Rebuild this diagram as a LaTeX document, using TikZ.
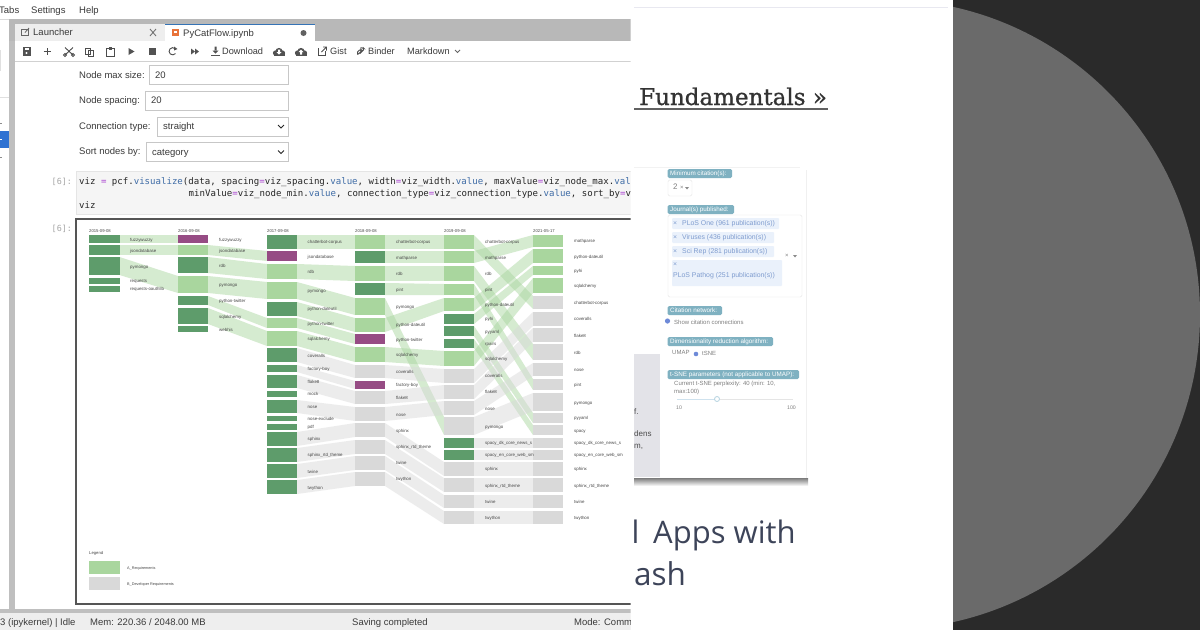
\documentclass[tikz,border=0pt]{standalone}
\usepackage{fontspec}
\setmainfont{Liberation Sans}
\newfontfamily\codefont{DejaVu Sans Mono}
\newfontfamily\headfont[FakeBold=0.9]{DejaVu Serif}
\newfontfamily\opensans{Open Sans}
\definecolor{dk}{HTML}{5E9C6B}
\definecolor{lt}{HTML}{A9D69E}
\definecolor{pu}{HTML}{964C84}
\definecolor{gy}{HTML}{D9D9D9}
\definecolor{kw}{HTML}{3F6CA6}
\definecolor{eqc}{HTML}{A83FD0}
\definecolor{pill}{HTML}{7FB1C1}
\definecolor{chip}{HTML}{EAF1FB}
\definecolor{chipt}{HTML}{7F9CCF}
\definecolor{uitext}{HTML}{3A3A3A}
\definecolor{bgdark}{HTML}{2A2A2A}
\definecolor{circ}{HTML}{6A6A6A}
\definecolor{selblue}{HTML}{2F72D2}
\definecolor{panelg}{HTML}{EEEEEE}
\definecolor{tabblue}{HTML}{3573B5}
\definecolor{orangeic}{HTML}{E8733A}
\definecolor{cellbg}{HTML}{F5F5F5}
\definecolor{framec}{HTML}{555555}
\definecolor{ruleline}{HTML}{E8E8F0}
\definecolor{sideg}{HTML}{E3E3E8}
\definecolor{checkb}{HTML}{6E8AD8}
\definecolor{slidea}{HTML}{CFE2EE}
\definecolor{slideb}{HTML}{B5D2E0}
\definecolor{headc}{HTML}{3D4459}
\newcommand{\fs}[1]{\fontsize{#1}{#1}\selectfont}
\newcommand{\kq}{\textcolor{eqc}{=}}
\newcommand{\kv}[1]{\textcolor{kw}{#1}}
\newcommand{\flowband}[7]{\fill[#1,opacity=.48] (#2,#4)--(#3,#6)--(#3,#7)--(#2,#5)--cycle;}
\tikzset{
 lab/.style={font=\fs{4.4},anchor=west,inner sep=0pt,text=black!72,text height=3.2pt,text depth=1pt},
 dat/.style={font=\fs{4.2},anchor=west,inner sep=0pt,text=black!72,text height=3.2pt,text depth=1pt},
 ui/.style={font=\fs{9.5},anchor=west,inner sep=0pt,text=uitext,text height=7.5pt,text depth=1.5pt},
 code/.style={font=\codefont\fs{9.07},anchor=west,inner sep=0pt,text=black!85,text height=7.5pt,text depth=1.5pt},
 field/.style={draw=black!22,fill=white,line width=.8pt},
 iconline/.style={draw=black!70,line width=.9pt,fill=none},
 pilltext/.style={font=\fs{6.3},anchor=west,inner sep=0pt,text=white,text height=4.5pt,text depth=1.5pt},
 chipbox/.style={fill=chip,rounded corners=1pt},
 chiptext/.style={font=\fs{6.9},anchor=west,inner sep=0pt,text=chipt,text height=5pt,text depth=1.5pt},
 soft/.style={font=\fs{6},anchor=west,inner sep=0pt,text=black!50,text height=4.5pt,text depth=1.5pt},
}
\begin{document}
\begin{tikzpicture}[x=1pt,y=-1pt]
\useasboundingbox (0,0) rectangle (1200,630);
\fill[white] (0,0) rectangle (1200,630);
% right dark side
\fill[bgdark] (953,0) rectangle (1200,630);
\begin{scope}
\clip (953,0) rectangle (1200,630);
\fill[circ] (885,314.5) circle [radius=315];
\end{scope}
% left screenshot
\begin{scope}
\clip (0,0) rectangle (630.5,630);
\node[ui] at (-1,10) {Tabs};
\node[ui] at (31,10) {Settings};
\node[ui] at (79,10) {Help};
% sidebar
\fill[black!25] (9,19) rectangle (15,613);
\fill[black!28] (9,19) rectangle (631,41);
\draw[black!15] (0,19) -- (9,19);
\fill[black!12] (0,50) rectangle (1,71);
\draw[black!12] (0,97) -- (9,97);
\fill[selblue] (0,131) rectangle (9,148);
\fill[black!45] (0,122.5) rectangle (1.5,124);
\fill[black!45] (0,156.5) rectangle (1.5,158);
\fill[white] (0,139) rectangle (2,140);
% tabs
\fill[panelg] (15,24) rectangle (165,41);
\fill[white] (165,24) rectangle (315,41);
\draw[tabblue,line width=1pt] (165,24) -- (315,24);
\draw[black!60,line width=.8pt] (21.5,29) rectangle (28,35.5);
\draw[black!60,line width=.8pt] (25,32.5) -- (29,28);
\node[ui] at (33,32.5) {Launcher};
\draw[black!55,line width=.9pt] (150,29) -- (156,36) (156,29) -- (150,36);
\fill[orangeic] (171.5,28.5) rectangle (179,36);
\fill[white] (173.5,30.5) rectangle (177,33);
\node[ui] at (183,33) {PyCatFlow.ipynb};
\fill[black!62] (303.5,33) circle [radius=3];
% toolbar
\draw[black!18,line width=.8pt] (15,61) -- (631,61);
\fill[black!68] (22.5,47) rectangle (30.5,55.5);
\fill[white] (24.5,48) rectangle (28.5,50);
\fill[white] (26.5,53) circle [radius=1.1];
\draw[iconline] (43.5,51.5) -- (50.5,51.5) (47,48) -- (47,55);
\draw[iconline] (65,47.5) -- (73,55) (73,47.5) -- (65,55);
\draw[iconline] (65,55) circle [radius=1.4] (73,55) circle [radius=1.4];
\draw[iconline] (85.5,48) rectangle (90.5,54) (88,50) rectangle (93,56);
\draw[iconline] (106.5,48.5) rectangle (114,56.5);
\fill[black!68] (108.5,47) rectangle (112,49.5);
\fill[black!68] (128.5,48) -- (134.5,51.5) -- (128.5,55) -- cycle;
\fill[black!68] (149,48) rectangle (155.5,54.5);
\draw[iconline] (175,48.5) arc [start angle=-50,end angle=-320,radius=3.6];
\fill[black!68] (174,46.5) -- (177.5,49) -- (174,50.5) -- cycle;
\fill[black!68] (191,48.5) -- (195,51.5) -- (191,54.5) -- cycle (195,48.5) -- (199,51.5) -- (195,54.5) -- cycle;
% download icon
\fill[black!68] (214.5,46.5) rectangle (216.5,51) (212.5,50.5) -- (218.5,50.5) -- (215.5,53.5) -- cycle;
\draw[black!68,line width=1pt] (211,55.5) -- (220,55.5);
\node[ui,font=\fs{9.2}] at (222,51) {Download};
% cloud icons
\fill[black!68] (279,51.5) circle [radius=3.6] (275.5,53) circle [radius=2.6] (282.5,53) circle [radius=2.6];
\fill[black!68] (273.5,52) rectangle (284.5,55.6);
\fill[white] (278,49.5) rectangle (280,52) (276.5,52) -- (281.5,52) -- (279,54.5) -- cycle;
\fill[black!68] (301,51.5) circle [radius=3.6] (297.5,53) circle [radius=2.6] (304.5,53) circle [radius=2.6];
\fill[black!68] (295.5,52) rectangle (306.5,55.6);
\fill[white] (300,52) rectangle (302,54.5) (298.5,52) -- (303.5,52) -- (301,49.5) -- cycle;
\draw[iconline] (318,48) -- (318,55.5) -- (325.5,55.5) -- (325.5,51);
\draw[iconline] (321.5,52) -- (326.5,47) (323,47) -- (326.5,47) -- (326.5,50.5);
\node[ui,font=\fs{9.2}] at (330,51) {Gist};
\draw[iconline,rounded corners=1.5pt] (358,54.5) -- (356.5,53) -- (360.5,49) -- (362,50.5) -- (358.5,54) (360,53.5) -- (364.5,49) -- (363,47.5) -- (360.5,48);
\node[ui,font=\fs{9.2}] at (368,51) {Binder};
\node[ui,font=\fs{9.2}] at (407,51) {Markdown};
\draw[black!60,line width=.8pt] (455,50) -- (457.5,52.5) -- (460,50);
% form
\node[ui] at (79,75) {Node max size:};
\draw[field] (149,65.5) rectangle (288,84);
\node[ui] at (155,75) {20};
\node[ui] at (79,100) {Node spacing:};
\draw[field] (145.5,91) rectangle (288,110);
\node[ui] at (151,100.5) {20};
\node[ui] at (79,126) {Connection type:};
\draw[field] (157,117) rectangle (288,136);
\node[ui] at (163,126.5) {straight};
\draw[black!85,line width=1pt] (278,125) -- (281,128) -- (284,125);
\node[ui] at (79,151.5) {Sort nodes by:};
\draw[field] (146,142.5) rectangle (288,161.5);
\node[ui] at (152,152) {category};
\draw[black!85,line width=1pt] (278,150.5) -- (281,153.5) -- (284,150.5);
% code cell
\fill[cellbg] (76,171) rectangle (631,214);
\draw[black!10] (76,171) rectangle (640,214);
\node[code,text=black!35,font=\codefont\fs{8.4}] at (51.5,181) {[6]:};
\node[code] at (79,181) {viz \kq{} pcf.\kv{visualize}(data, spacing\kq{}viz\_spacing.\kv{value}, width\kq{}viz\_width.\kv{value}, maxValue\kq{}viz\_node\_max.\kv{value}};
\node[code] at (188.5,193) {minValue\kq{}viz\_node\_min.\kv{value}, connection\_type\kq{}viz\_connection\_type.\kv{value}, sort\_by\kq{}viz};
\node[code] at (79,205) {viz};
\node[code,text=black!35,font=\codefont\fs{8.4}] at (51.5,228) {[6]:};
% output frame
\draw[framec,line width=1.2pt] (640,219) -- (76,219) -- (76,604) -- (640,604);
% flows 1-2
\flowband{lt}{119.5}{178}{235}{243}{235}{243}
\flowband{lt}{119.5}{178}{245}{255}{245}{255}
\flowband{lt}{119.5}{178}{257}{275}{276}{293}
% flows 2-3
\flowband{lt}{208}{267}{245}{255}{251}{261}
\flowband{lt}{208}{267}{257}{273}{264}{279}
\flowband{lt}{208}{267}{276}{293}{282}{299}
\flowband{lt}{208}{267}{296}{305}{318}{328}
\flowband{lt}{208}{267}{308}{324}{331}{346}
% flows 3-4
\foreach \a/\b/\c/\d in {235/249/235/249,264/279/266/281,282/299/298/315,302/316/318/332,318/328/334/344,331/346/347/362}
 {\flowband{lt}{297}{355}{\a}{\b}{\c}{\d}}
\foreach \a/\b/\c/\d in {348/362/365/378,365/372/381/389,375/388/391/404,400/413/407/421,432/446/423/437,448/462/440/454,464/478/456/470,480/494/472/486}
 {\flowband{gy}{297}{355}{\a}{\b}{\c}{\d}}
% flows 4-5
\foreach \a/\b/\c/\d in {235/249/235/249,251/263/251/263,266/281/266/281,283/295/284/295,298/315/417/435,318/332/298/311,347/362/351/366}
 {\flowband{lt}{385}{444}{\a}{\b}{\c}{\d}}
\foreach \a/\b/\c/\d in {365/378/369/383,391/404/385/399,407/421/401/415,423/437/462/476,440/454/478/492,456/470/495/508,472/486/511/524}
 {\flowband{gy}{385}{444}{\a}{\b}{\c}{\d}}
% flows 5-6
\foreach \a/\b/\c/\d in {235/249/296/309,251/263/235/247,266/281/344/360,284/295/379/390,298/311/249/263,314/324/266/275,326/336/413/423,339/348/425/435,351/366/278/293}
 {\flowband{lt}{474}{533}{\a}{\b}{\c}{\d}}
\foreach \a/\b/\c/\d in {369/383/312/326,385/399/328/342,401/415/363/376,417/435/393/411,438/448/438/448,450/460/450/460,462/476/462/476,478/492/478/492,495/508/495/508,511/524/511/524}
 {\flowband{gy}{474}{533}{\a}{\b}{\c}{\d}}
% boxes
\foreach \a/\b/\c in {235/243/dk,245/255/dk,257/275/dk,278/283.5/dk,286/292/dk}
 {\fill[\c] (89,\a) rectangle (119.5,\b);}
\foreach \a/\b/\c in {235/243/pu,245/255/lt,257/273/dk,276/293/lt,296/305/dk,308/324/dk,326/332/dk}
 {\fill[\c] (178,\a) rectangle (208,\b);}
\foreach \a/\b/\c in {235/249/dk,251/261/pu,264/279/lt,282/299/lt,302/316/dk,318/328/lt,331/346/lt,348/362/dk,365/372/dk,375/388/dk,391/397/dk,400/413/dk,416/421/dk,424/430/dk,432/446/dk,448/462/dk,464/478/dk,480/494/dk}
 {\fill[\c] (267,\a) rectangle (297,\b);}
\foreach \a/\b/\c in {235/249/lt,251/263/dk,266/281/lt,283/295/dk,298/315/lt,318/332/lt,334/344/pu,347/362/lt,365/378/gy,381/389/pu,391/404/gy,407/421/gy,423/437/gy,440/454/gy,456/470/gy,472/486/gy}
 {\fill[\c] (355,\a) rectangle (385,\b);}
\foreach \a/\b/\c in {235/249/lt,251/263/lt,266/281/lt,284/295/lt,298/311/lt,314/324/dk,326/336/dk,339/348/dk,351/366/lt,369/383/gy,385/399/gy,401/415/gy,417/435/gy,438/448/dk,450/460/dk,462/476/gy,478/492/gy,495/508/gy,511/524/gy}
 {\fill[\c] (444,\a) rectangle (474,\b);}
\foreach \a/\b/\c in {235/247/lt,249/263/lt,266/275/lt,278/293/lt,296/309/gy,312/326/gy,328/342/gy,344/360/gy,363/376/gy,379/390/gy,393/411/gy,413/423/gy,425/435/gy,438/448/gy,450/460/gy,462/476/gy,478/492/gy,495/508/gy,511/524/gy}
 {\fill[\c] (533,\a) rectangle (563,\b);}
% dates
\foreach \x/\t in {89/2015-09-08,178/2016-09-08,267/2017-09-08,355/2018-09-08,444/2019-09-08,533/2021-05-17}
 {\node[dat] at (\x,231) {\t};}
% labels
\foreach \y/\t in {240/fuzzywuzzy,251/jsondatabase,267/pymongo,281/requests,289/requests-oauthlib}
 {\node[lab] at (130,\y) {\t};}
\foreach \y/\t in {240/fuzzywuzzy,251/jsondatabase,266/rdb,285/pymongo,301/python-twitter,317/sqlalchemy,330/webhis}
 {\node[lab] at (219,\y) {\t};}
\foreach \y/\t in {242/chatterbot-corpus,257/jsondatabase,272/rdb,291/pymongo,309/python-dateutil,324/python-twitter,339/sqlalchemy,356/coveralls,369/factory-boy,382/flake8,394/mock,407/nose,419/nose-exclude,427/pdf,439/sphinx,455/sphinx\_rtd\_theme,472/twine,488/twython}
 {\node[lab] at (307.5,\y) {\t};}
\foreach \y/\t in {242/chatterbot-corpus,258/mathparse,274/rdb,290/pint,307/pymongo,325/python-dateutil,340/python-twitter,355/sqlalchemy,372/coveralls,385/factory-boy,398/flake8,415/nose,431/sphinx,447/sphinx\_rtd\_theme,463/twine,479/twython}
 {\node[lab] at (396,\y) {\t};}
\foreach \y/\t in {242/chatterbot-corpus,258/mathparse,274/rdb,290/pint,305/python-dateutil,319/pyhi,332/pyyaml,344/rpairs,359/sqlalchemy,376/coveralls,392/flake8,409/nose,427/pymongo,443/spacy\_dk\_core\_news\_s,455/spacy\_en\_core\_web\_sm,469/sphinx,486/sphinx\_rtd\_theme,502/twine,518/twython}
 {\node[lab] at (485,\y) {\t};}
\foreach \y/\t in {241/mathparse,257/python-dateutil,271/pyhi,286/sqlalchemy,303/chatterbot-corpus,319/coveralls,336/flake8,353/rdb,370/nose,385/pint,403/pymongo,418/pyyaml,431/spacy,443/spacy\_dk\_core\_news\_s,455/spacy\_en\_core\_web\_sm,469/sphinx,486/sphinx\_rtd\_theme,502/twine,518/twython}
 {\node[lab] at (574,\y) {\t};}
% legend
\node[dat] at (89,553) {Legend};
\fill[lt] (89,561) rectangle (119.5,574);
\fill[gy] (89,577) rectangle (119.5,589.5);
\node[dat,font=\rmfamily\fs{3.8}] at (127,568) {A\_Requirements};
\node[dat,font=\rmfamily\fs{3.8}] at (127,584) {B\_Developer Requirements};
% status bar
\fill[black!25] (0,609) rectangle (631,613);
\fill[panelg] (0,613) rectangle (631,630);
\node[ui] at (0,622) {3 (ipykernel) | Idle};
\node[ui] at (90,622) {Mem: 220.36 / 2048.00 MB};
\node[ui] at (352,622) {Saving completed};
\node[ui] at (574,622) {Mode: Command};
\end{scope}
% right white panel
\draw[ruleline,line width=1.5pt] (634,7.5) -- (948,7.5);
\node[font=\headfont\fs{23},anchor=base west,inner sep=0pt,text=black!80] at (639,105) {Fundamentals »};
\draw[black!62,line width=2pt] (634,108.5) -- (828,108.5);
% card
\shade[top color=black!48,bottom color=white] (634,478.5) rectangle (808,486);
\draw[black!5] (634,167) -- (800,167);
\draw[black!6] (806,170) -- (806,478);
\fill[sideg] (634,354) rectangle (660,477);
\begin{scope}
\clip (634,340) rectangle (660,480);
\node[soft,font=\fs{8},text=black!70] at (634,413) {f.};
\node[soft,font=\fs{8},text=black!70] at (634,435) {dens};
\node[soft,font=\fs{8},text=black!70] at (634,447) {m,};
\end{scope}
\fill[pill,rounded corners=1.5pt] (667.5,169) rectangle (732,178);
\node[pilltext] at (670,173.5) {Minimum citation(s):};
\draw[black!10,fill=white,rounded corners=1.5pt] (668,180) rectangle (692,196);
\node[soft,font=\fs{8}] at (673,188) {2};
\node[soft] at (680,188) {×};
\fill[pill,rounded corners=1.5pt] (667.5,205) rectangle (734,214);
\node[pilltext] at (670,209.5) {Journal(s) published:};
\draw[black!10,rounded corners=1.5pt] (668,215) rectangle (802,297);
\fill[chipbox] (672,218) rectangle (779,229);
\node[chiptext] at (673,223.5) {×};
\node[chiptext] at (682,223.5) {PLoS One (961 publication(s))};
\fill[chipbox] (672,232) rectangle (774,243);
\node[chiptext] at (673,237.5) {×};
\node[chiptext] at (682,237.5) {Viruses (436 publication(s))};
\fill[chipbox] (672,246) rectangle (774,257);
\node[chiptext] at (673,251.5) {×};
\node[chiptext] at (682,251.5) {Sci Rep (281 publication(s))};
\fill[chipbox] (672,260) rectangle (782,286);
\node[chiptext] at (673,265) {×};
\node[chiptext] at (673,275.5) {PLoS Pathog (251 publication(s))};
\node[soft] at (785,256) {×};
\fill[black!45] (793,255) -- (797,255) -- (795,257.5) -- cycle;
\fill[black!45] (685,187) -- (689,187) -- (687,189.5) -- cycle;
\fill[pill,rounded corners=1.5pt] (667.5,306) rectangle (722,315);
\node[pilltext] at (670,310.5) {Citation network:};
\fill[checkb] (667.5,321) circle [radius=2.6];
\node[soft] at (674,322.5) {Show citation connections};
\fill[pill,rounded corners=1.5pt] (667.5,337) rectangle (773,346);
\node[pilltext] at (670,341.5) {Dimensionality reduction algorithm:};
\node[soft] at (672,353) {UMAP};
\fill[checkb] (696,354) circle [radius=2.3];
\node[soft] at (702,353.5) {tSNE};
\fill[pill,rounded corners=1.5pt] (667.5,370) rectangle (799,379);
\node[pilltext] at (670,374.5) {t-SNE parameters (not applicable to UMAP):};
\node[soft] at (674,384) {Current t-SNE perplexity: 40 (min: 10,};
\node[soft] at (674,392) {max:100)};
\draw[black!10,line width=1pt] (677,399) -- (793,399);
\draw[slidea,line width=1pt] (677,399) -- (717,399);
\draw[slideb,fill=white,line width=.8pt] (717,399) circle [radius=2.5];
\node[soft,font=\fs{5.2}] at (676,408) {10};
\node[soft,font=\fs{5.2}] at (787,408) {100};
% heading
\begin{scope}
\clip (634,500) rectangle (950,600);
\node[font=\opensans\fs{31},anchor=base west,inner sep=0pt,text=headc] at (631.5,543) {l};
\end{scope}
\node[font=\opensans\fs{31},anchor=base west,inner sep=0pt,text=headc] at (653,543) {Apps with};
\node[font=\opensans\fs{31.5},anchor=base west,inner sep=0pt,text=headc] at (634,585) {ash};
\end{tikzpicture}
\end{document}
